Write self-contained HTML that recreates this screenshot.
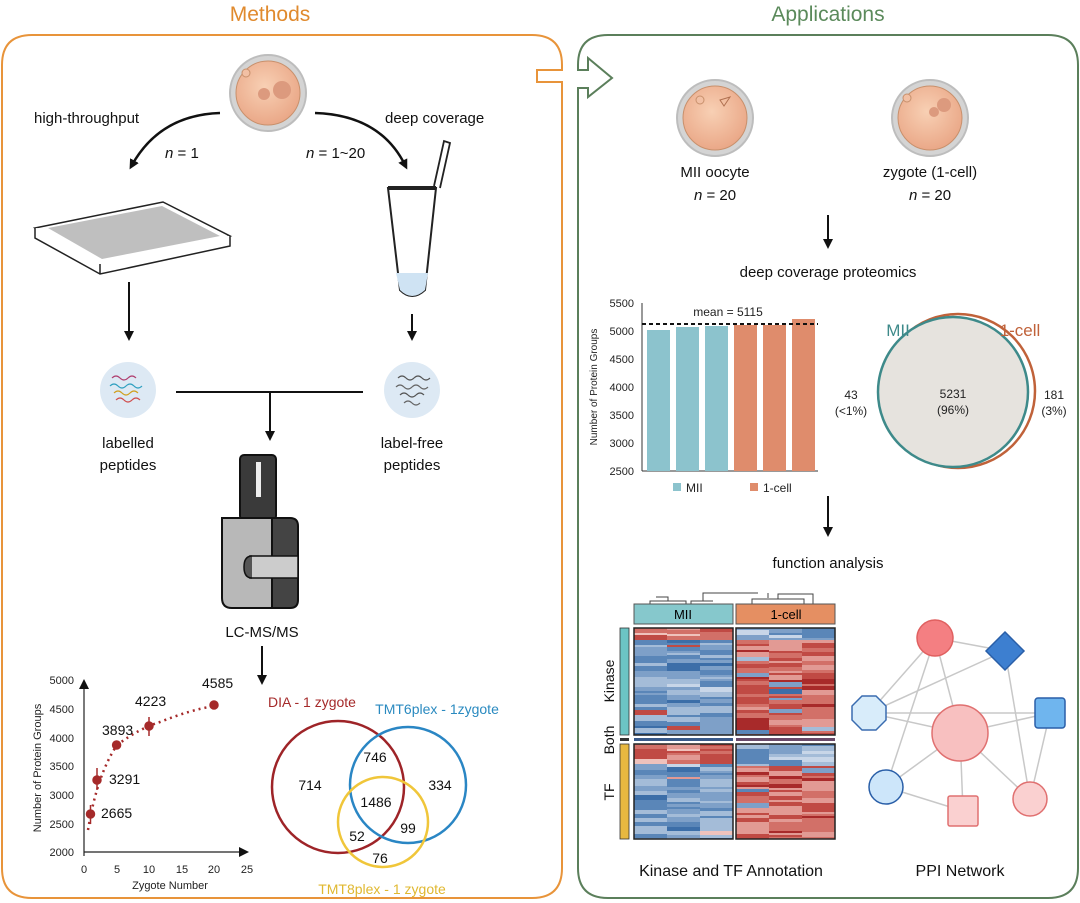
<!DOCTYPE html>
<html><head><meta charset="utf-8"><style>
html,body{margin:0;padding:0;background:#fff;}
svg{display:block;font-family:"Liberation Sans",Arial,sans-serif;}
</style></head><body>
<svg id="s" width="1080" height="903" viewBox="0 0 1080 903" xmlns="http://www.w3.org/2000/svg">
<defs>
<marker id="ah" markerWidth="10" markerHeight="10" refX="5" refY="5" orient="auto" markerUnits="userSpaceOnUse"><path d="M0,0 L10,5 L0,10 z" fill="#111"/></marker>
<radialGradient id="egg" cx="0.45" cy="0.4" r="0.6"><stop offset="0" stop-color="#f8d0b4"/><stop offset="1" stop-color="#eaa888"/></radialGradient>
</defs>
<text x="270" y="21" font-size="21" fill="#e08a2e" text-anchor="middle">Methods</text>
<text x="828" y="21" font-size="21" fill="#5b8a5b" text-anchor="middle">Applications</text>
<path d="M32,35 H532 Q562,35 562,65 V70 H537 V82 H562 V868 Q562,898 532,898 H32 Q2,898 2,868 V65 Q2,35 32,35 Z" fill="none" stroke="#e8943a" stroke-width="2"/>
<path d="M608,35 H1048 Q1078,35 1078,65 V868 Q1078,898 1048,898 H608 Q578,898 578,868 V88 H588 V97 L612,78 L588,58 V70 H578 V65 Q578,35 608,35 Z" fill="none" stroke="#5b7f5b" stroke-width="2"/>

<g id="eggs">
<circle cx="268" cy="93" r="38" fill="#d4d4d4" stroke="#bdbdbd" stroke-width="2"/>
<circle cx="268" cy="93" r="32" fill="url(#egg)" stroke="#c8906c" stroke-width="1"/>
<circle cx="282" cy="90" r="9" fill="#dc9a7e"/><circle cx="264" cy="94" r="6" fill="#dc9a7e"/>
<circle cx="246" cy="73" r="4" fill="#f2c0a4" stroke="#c8906c"/>
<circle cx="715" cy="118" r="38" fill="#d4d4d4" stroke="#bdbdbd" stroke-width="2"/>
<circle cx="715" cy="118" r="32" fill="url(#egg)" stroke="#c8906c"/>
<circle cx="700" cy="100" r="4" fill="#f2c0a4" stroke="#c8906c"/>
<path d="M720,100 l10,-3 l-6,9 z" fill="none" stroke="#b07050"/>
<circle cx="930" cy="118" r="38" fill="#d4d4d4" stroke="#bdbdbd" stroke-width="2"/>
<circle cx="930" cy="118" r="32" fill="url(#egg)" stroke="#c8906c"/>
<circle cx="944" cy="105" r="7" fill="#dc9a7e"/><circle cx="934" cy="112" r="5" fill="#dc9a7e"/>
<circle cx="907" cy="98" r="4" fill="#f2c0a4" stroke="#c8906c"/>
</g>

<g font-size="15" fill="#111">
<text x="34" y="123">high-throughput</text>
<text x="385" y="123">deep coverage</text>
<text x="165" y="158"><tspan font-style="italic">n</tspan> = 1</text>
<text x="306" y="158"><tspan font-style="italic">n</tspan> = 1~20</text>
</g>
<path d="M220,113 Q160,115 132,165" fill="none" stroke="#111" stroke-width="2.5" marker-end="url(#ah)"/>
<path d="M315,113 Q380,115 405,165" fill="none" stroke="#111" stroke-width="2.5" marker-end="url(#ah)"/>
<path d="M35,228 L163,202 L230,236 L100,264 Z" fill="#fff" stroke="#222" stroke-width="1.5"/>
<path d="M35,228 L35,238 L100,274 L230,246 L230,236 M100,264 V274" fill="#fff" stroke="#222" stroke-width="1.5"/>
<path d="M48,228 L162,206 L220,236 L102,259 Z" fill="#8a8a8a" opacity="0.55"/>
<path d="M434,186 l10,-45 l6,2 l-10,45" fill="#fff" stroke="#222" stroke-width="1.8"/>
<path d="M388,188 H436 L425,290 Q412,302 400,290 Z" fill="#fff" stroke="#222" stroke-width="2"/>
<path d="M396,273 H428 L425,290 Q412,302 400,290 Z" fill="#cfe3f3"/>
<path d="M388,188 H436" stroke="#222" stroke-width="4"/>
<line x1="129" y1="282" x2="129" y2="336" stroke="#111" stroke-width="2" marker-end="url(#ah)"/>
<line x1="412" y1="314" x2="412" y2="336" stroke="#111" stroke-width="2" marker-end="url(#ah)"/>
<circle cx="128" cy="390" r="28" fill="#dde9f4"/>
<circle cx="412" cy="390" r="28" fill="#dde9f4"/>
<g fill="none" stroke-width="1.2">
<path d="M112,378 q4,-4 8,0 t8,0 t8,0" stroke="#b04070"/><path d="M110,386 q4,-4 8,0 t8,0 t8,0 t8,0" stroke="#30a0c0"/>
<path d="M114,393 q4,-4 8,0 t8,0 t8,0" stroke="#d0a020"/><path d="M116,400 q4,-4 8,0 t8,0 t8,0" stroke="#d05050"/>
<path d="M398,378 q4,-4 8,0 t8,0 t8,0 t8,0" stroke="#555"/><path d="M396,387 q4,-4 8,0 t8,0 t8,0 t8,0" stroke="#666"/>
<path d="M400,395 q4,-4 8,0 t8,0 t8,0" stroke="#555"/><path d="M404,403 q4,-4 8,0 t8,0" stroke="#666"/>
</g>
<line x1="176" y1="392" x2="363" y2="392" stroke="#111" stroke-width="2"/>
<line x1="270" y1="392" x2="270" y2="436" stroke="#111" stroke-width="2" marker-end="url(#ah)"/>
<g font-size="15" fill="#111" text-anchor="middle">
<text x="128" y="448">labelled</text><text x="128" y="470">peptides</text>
<text x="412" y="448">label-free</text><text x="412" y="470">peptides</text>
<text x="262" y="637">LC-MS/MS</text>
</g>
<rect x="240" y="455" width="36" height="65" rx="4" fill="#3a3a3a" stroke="#111" stroke-width="2"/>
<rect x="256" y="462" width="5" height="35" fill="#eee"/>
<path d="M222,518 H280 V608 H232 Q222,608 222,598 Z" fill="#b8b8b8" stroke="#111" stroke-width="2"/>
<path d="M272,518 H290 Q298,518 298,526 V600 Q298,608 290,608 H272 Z" fill="#444" stroke="#111" stroke-width="2"/>
<rect x="250" y="556" width="48" height="22" fill="#ccc" stroke="#111" stroke-width="1.5"/>
<path d="M252,556 Q244,556 244,567 Q244,578 252,578" fill="#555" stroke="#111" stroke-width="1.5"/>
<line x1="262" y1="646" x2="262" y2="680" stroke="#111" stroke-width="2" marker-end="url(#ah)"/>

<g font-size="11" fill="#222">
<line x1="84" y1="856" x2="84" y2="684" stroke="#222" stroke-width="1.2" marker-end="url(#ah)"/>
<line x1="84" y1="852" x2="244" y2="852" stroke="#222" stroke-width="1.2" marker-end="url(#ah)"/>
<g text-anchor="end"><text x="74" y="684">5000</text><text x="74" y="713">4500</text><text x="74" y="742">4000</text><text x="74" y="770">3500</text><text x="74" y="799">3000</text><text x="74" y="828">2500</text><text x="74" y="856">2000</text></g>
<g text-anchor="middle"><text x="84" y="873">0</text><text x="117" y="873">5</text><text x="149" y="873">10</text><text x="182" y="873">15</text><text x="214" y="873">20</text><text x="247" y="873">25</text>
<text x="170" y="889" font-size="11">Zygote Number</text>
<text transform="translate(41,768) rotate(-90)" font-size="11">Number of Protein Groups</text></g>
<path d="M88,830 Q97,775 117,745 Q140,728 160,722 Q190,710 214,706" fill="none" stroke="#a52a2a" stroke-width="2.5" stroke-dasharray="2,4"/>
<g fill="#a52a2a" stroke="#a52a2a" stroke-width="1.5">
<circle cx="90.5" cy="814" r="4"/><line x1="90.5" y1="805" x2="90.5" y2="824"/>
<circle cx="97" cy="780" r="4"/><line x1="97" y1="768" x2="97" y2="790"/>
<circle cx="116.6" cy="745" r="4"/><circle cx="149" cy="726" r="4"/><line x1="149" y1="717" x2="149" y2="736"/>
<circle cx="214" cy="705" r="4"/></g>
<g font-size="14" fill="#111"><text x="101" y="818">2665</text><text x="109" y="784">3291</text><text x="102" y="735">3893</text><text x="135" y="706">4223</text><text x="202" y="688">4585</text></g>
</g>
<circle cx="338" cy="787" r="66" fill="none" stroke="#9e2428" stroke-width="2.5"/>
<circle cx="408" cy="785" r="58" fill="none" stroke="#2a86c4" stroke-width="2.5"/>
<circle cx="383" cy="822" r="45" fill="none" stroke="#f0c63a" stroke-width="2.5"/>
<g font-size="14" fill="#111" text-anchor="middle">
<text x="310" y="790">714</text><text x="375" y="762">746</text><text x="440" y="790">334</text>
<text x="376" y="807">1486</text><text x="357" y="841">52</text><text x="408" y="833">99</text><text x="380" y="863">76</text></g>
<text x="312" y="707" font-size="14" fill="#a52a2a" text-anchor="middle">DIA - 1 zygote</text>
<text x="437" y="714" font-size="14" fill="#2a8ac0" text-anchor="middle">TMT6plex - 1zygote</text>
<text x="382" y="894" font-size="14" fill="#e0b830" text-anchor="middle">TMT8plex - 1 zygote</text>

<g font-size="15" fill="#111" text-anchor="middle">
<text x="715" y="177">MII oocyte</text><text x="715" y="200"><tspan font-style="italic">n</tspan> = 20</text>
<text x="930" y="177">zygote (1-cell)</text><text x="930" y="200"><tspan font-style="italic">n</tspan> = 20</text>
<text x="828" y="277">deep coverage proteomics</text>
<text x="828" y="568">function analysis</text>
<text x="731" y="876" font-size="16">Kinase and TF Annotation</text>
<text x="960" y="876" font-size="16">PPI Network</text>
</g>
<line x1="828" y1="215" x2="828" y2="244" stroke="#111" stroke-width="2" marker-end="url(#ah)"/>
<line x1="828" y1="496" x2="828" y2="532" stroke="#111" stroke-width="2" marker-end="url(#ah)"/>
<g font-size="11" fill="#222">
<line x1="642" y1="303" x2="642" y2="471" stroke="#333"/>
<line x1="642" y1="471" x2="818" y2="471" stroke="#333"/>
<g text-anchor="end"><text x="634" y="307">5500</text><text x="634" y="335">5000</text><text x="634" y="363">4500</text><text x="634" y="391">4000</text><text x="634" y="419">3500</text><text x="634" y="447">3000</text><text x="634" y="475">2500</text></g>
<text transform="translate(597,387) rotate(-90)" text-anchor="middle" font-size="10">Number of Protein Groups</text>
<rect x="647" y="330" width="23" height="141" fill="#8cc3cd"/><rect x="676" y="327" width="23" height="144" fill="#8cc3cd"/><rect x="705" y="326" width="23" height="145" fill="#8cc3cd"/>
<rect x="734" y="325" width="23" height="146" fill="#df8c6c"/><rect x="763" y="325" width="23" height="146" fill="#df8c6c"/><rect x="792" y="319" width="23" height="152" fill="#df8c6c"/>
<line x1="642" y1="324" x2="818" y2="324" stroke="#111" stroke-width="2" stroke-dasharray="4,3"/>
<text x="728" y="316" font-size="12" text-anchor="middle">mean = 5115</text>
<rect x="673" y="483" width="8" height="8" fill="#8cc3cd"/><text x="686" y="492" font-size="12">MII</text>
<rect x="750" y="483" width="8" height="8" fill="#df8c6c"/><text x="763" y="492" font-size="12">1-cell</text>
</g>
<circle cx="958" cy="391" r="77" fill="none" stroke="#c0623a" stroke-width="2.5"/>
<circle cx="953" cy="392" r="75" fill="#e6e3de" stroke="#3e8a8a" stroke-width="2.5"/>
<text x="898" y="336" font-size="17" fill="#3e8a8a" text-anchor="middle">MII</text>
<text x="1020" y="336" font-size="17" fill="#c0623a" text-anchor="middle">1-cell</text>
<g font-size="12" fill="#222" text-anchor="middle">
<text x="953" y="398">5231</text><text x="953" y="414">(96%)</text>
<text x="851" y="399">43</text><text x="851" y="415">(&lt;1%)</text>
<text x="1054" y="399">181</text><text x="1054" y="415">(3%)</text></g>

<path d="M650,604 v-3 h36 v3 M668,601 v-4 h-12 M691,604 v-3 h22 M703,601 v-8 h55 M752,604 v-5 h52 v5 M768,593 v5 M778,599 v-5 h35 v10" fill="none" stroke="#444" stroke-width="1"/>
<rect x="634" y="604" width="99" height="20" fill="#86c8cc" stroke="#555"/>
<rect x="736" y="604" width="99" height="20" fill="#e58f62" stroke="#555"/>
<text x="683" y="619" font-size="13" text-anchor="middle">MII</text>
<text x="786" y="619" font-size="13" text-anchor="middle">1-cell</text>
<rect x="620" y="628" width="9" height="107" fill="#6cc4c4" stroke="#333" stroke-width="0.8"/>
<rect x="620" y="738" width="9" height="3" fill="#333"/>
<rect x="620" y="744" width="9" height="95" fill="#e8b840" stroke="#333" stroke-width="0.8"/>
<g font-size="14" fill="#111" text-anchor="middle">
<text transform="translate(614,681) rotate(-90)">Kinase</text>
<text transform="translate(614,740) rotate(-90)">Both</text>
<text transform="translate(614,792) rotate(-90)">TF</text></g>
<g id="hm"></g>
<rect x="634" y="628" width="99" height="107" fill="none" stroke="#222" stroke-width="1.5"/>
<rect x="736" y="628" width="99" height="107" fill="none" stroke="#222" stroke-width="1.5"/>
<rect x="634" y="738" width="99" height="3" fill="#3a5a8a"/>
<rect x="736" y="738" width="99" height="3" fill="#6a4a6a"/>
<rect x="634" y="744" width="99" height="95" fill="none" stroke="#222" stroke-width="1.5"/>
<rect x="736" y="744" width="99" height="95" fill="none" stroke="#222" stroke-width="1.5"/>

<g stroke="#c8c8c8" stroke-width="1.5">
<line x1="935" y1="638" x2="1005" y2="651"/><line x1="935" y1="638" x2="869" y2="713"/><line x1="935" y1="638" x2="960" y2="733"/><line x1="935" y1="638" x2="886" y2="787"/>
<line x1="1005" y1="651" x2="869" y2="713"/><line x1="1005" y1="651" x2="1030" y2="799"/>
<line x1="869" y1="713" x2="1050" y2="713"/><line x1="869" y1="713" x2="960" y2="733"/>
<line x1="960" y1="733" x2="1050" y2="713"/><line x1="960" y1="733" x2="886" y2="787"/><line x1="960" y1="733" x2="963" y2="811"/><line x1="960" y1="733" x2="1030" y2="799"/>
<line x1="886" y1="787" x2="963" y2="811"/><line x1="1050" y1="713" x2="1030" y2="799"/>
</g>
<circle cx="935" cy="638" r="18" fill="#f47f82" stroke="#e06060" stroke-width="1.5"/>
<path d="M1005,632 L1024,651 L1005,670 L986,651 Z" fill="#3d7fd0" stroke="#2a5fa8" stroke-width="1.5"/>
<polygon points="862,696 876,696 886,706 886,720 876,730 862,730 852,720 852,706" fill="#d8ecfa" stroke="#3a6cb0" stroke-width="1.5"/>
<rect x="1035" y="698" width="30" height="30" rx="3" fill="#6fb5ee" stroke="#2a5fa8" stroke-width="1.5"/>
<circle cx="960" cy="733" r="28" fill="#f8c0c0" stroke="#e07070" stroke-width="1.5"/>
<circle cx="886" cy="787" r="17" fill="#cde6fa" stroke="#2a5fa8" stroke-width="1.5"/>
<rect x="948" y="796" width="30" height="30" rx="2" fill="#fad0d0" stroke="#e07070" stroke-width="1.5"/>
<circle cx="1030" cy="799" r="17" fill="#fad0d0" stroke="#e07070" stroke-width="1.5"/>
</svg>
<script>
(function(){
var g=document.getElementById('hm'),ns='http://www.w3.org/2000/svg',seed=7;
function r(){seed=(seed*9301+49297)%233280;return seed/233280;}
var blues=['#3c6ea8','#5a86b8','#7ea0c8','#a4bcd8','#c8d6e8','#e8eef5'];
var reds=['#a82a2a','#c04a44','#d27068','#e29a94','#efc2bc','#f8e4e0'];
function blk(x,y,h,pal,bias){
 for(var c=0;c<3;c++){var yy=y;while(yy<y+h){var hh=2+Math.floor(r()*4);if(yy+hh>y+h)hh=y+h-yy;
 var i=Math.min(5,Math.max(0,Math.floor(r()*3.5+bias)));var p=pal;if(r()<0.03)p=(pal===blues?reds:blues);
 var e=document.createElementNS(ns,'rect');e.setAttribute('x',x+c*33);e.setAttribute('y',yy);e.setAttribute('width',33);e.setAttribute('height',hh);e.setAttribute('fill',p[i]);g.appendChild(e);yy+=hh;}}
}
blk(634,628,12,reds,1);blk(634,640,95,blues,0.7);
blk(736,628,12,blues,1);blk(736,640,95,reds,0.5);
blk(634,744,20,reds,1.2);blk(634,764,75,blues,0.7);
blk(736,744,22,blues,1);blk(736,766,73,reds,0.5);
})();
</script>
</body></html>
